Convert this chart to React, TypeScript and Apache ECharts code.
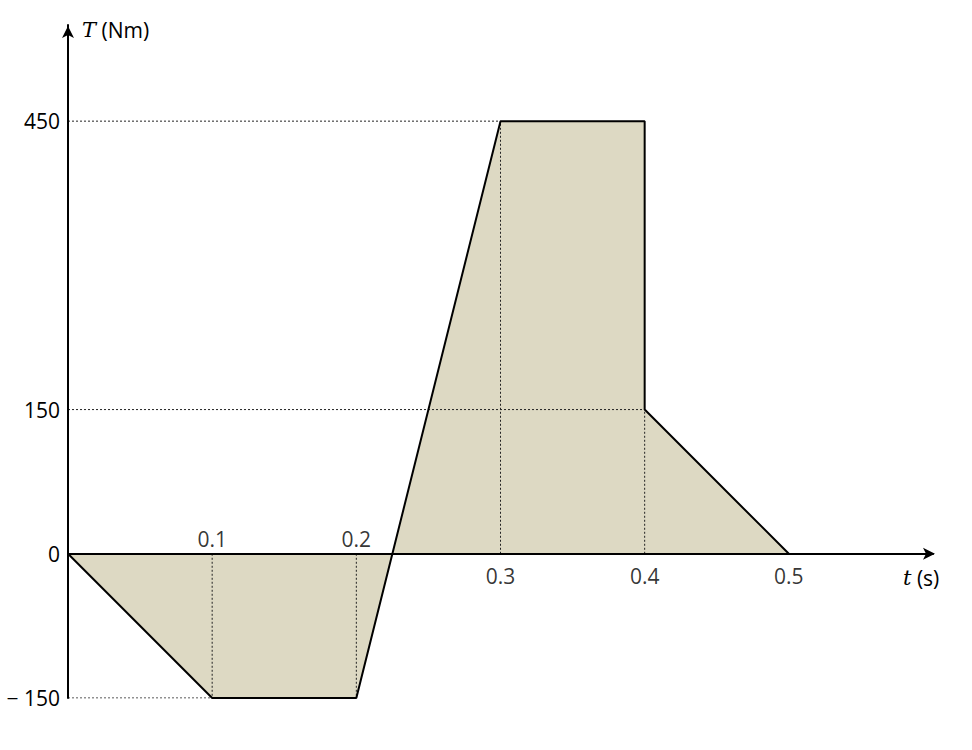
import React, { useEffect, useRef } from "react";
import * as echarts from "echarts";

const timeValues = [0, 0.1, 0.2, 0.3, 0.4, 0.4, 0.5];
const torqueValues = [0, -150, -150, 450, 450, 150, 0];

const yTickLabels = [450, 150, 0, -150];
const labelsAbove = [0.1, 0.2];
const labelsBelow = [0.3, 0.4, 0.5];

// horizontal guides: [torque level, t where it ends]
const hGuides: [number, number][] = [
  [450, 0.3],
  [150, 0.4],
  [-150, 0.1],
];
// vertical guides: [t, torque level]
const vGuides: [number, number][] = [
  [0.1, -150],
  [0.2, -150],
  [0.3, 450],
  [0.4, 150],
];

const FONT = "'Open Sans', sans-serif";
const FS = 21;

export default function App() {
  const ref = useRef<HTMLDivElement>(null);
  useEffect(() => {
    if (!ref.current) return;
    const chart = echarts.init(ref.current, undefined, { renderer: "svg" });
    const dotted = {
      type: [2, 2] as any,
      color: "#222",
      width: 1,
    };
    const labelStyle = {
      fontFamily: FONT,
      fontSize: FS,
      color: "#000",
    };
    const series: any[] = [
      {
        type: "line",
        data: timeValues.map((t, i) => [t, torqueValues[i]]),
        symbol: "none",
        lineStyle: { width: 0 },
        areaStyle: { color: "#DDD9C3", opacity: 1, origin: 0 },
        z: 1,
      },
      ...hGuides.map(([v, t]) => ({
        type: "line",
        data: [
          [0, v],
          [t, v],
        ],
        symbol: "none",
        lineStyle: dotted,
        z: 2,
      })),
      ...vGuides.map(([t, v]) => ({
        type: "line",
        data: [
          [t, 0],
          [t, v],
        ],
        symbol: "none",
        lineStyle: dotted,
        z: 2,
      })),
      {
        type: "line",
        data: timeValues.map((t, i) => [t, torqueValues[i]]),
        symbol: "none",
        lineStyle: { color: "#000", width: 2 },
        z: 5,
      },
      {
        type: "scatter",
        data: labelsAbove.map((t) => [t, 0]),
        symbolSize: 0,
        label: {
          show: true,
          position: "top",
          distance: 4,
          formatter: (p: any) => String(p.value[0]),
          ...labelStyle,
        },
        z: 6,
      },
      {
        type: "scatter",
        data: labelsBelow.map((t) => [t, 0]),
        symbolSize: 0,
        label: {
          show: true,
          position: "bottom",
          distance: 12,
          formatter: (p: any) => String(p.value[0]),
          ...labelStyle,
        },
        z: 6,
      },
    ];
    const titleRich = {
      i: {
        fontFamily: "'DejaVu Serif', serif",
        fontStyle: "italic",
        fontSize: 21,
        fill: "#000",
      },
      n: {
        fontFamily: FONT,
        fontSize: FS,
        fill: "#000",
      },
    };
    chart.setOption({
      animation: false,
      backgroundColor: "#fff",
      grid: { left: 68, right: 39, top: 25, bottom: 52, containLabel: false },
      xAxis: {
        type: "value",
        min: 0,
        max: 0.6,
        interval: 0.1,
        z: 10,
        axisLine: {
          onZero: true,
          lineStyle: { color: "#000", width: 2 },
          symbol: ["none", "arrow"],
          symbolSize: [9, 12],
          symbolOffset: [0, 2],
        },
        axisTick: { show: false },
        axisLabel: { show: false },
        splitLine: { show: false },
      },
      yAxis: {
        type: "value",
        min: -150,
        max: 550,
        interval: 150,
        z: 10,
        axisLine: {
          show: true,
          onZero: false,
          lineStyle: { color: "#000", width: 2 },
          symbol: ["none", "arrow"],
          symbolSize: [9, 12],
          symbolOffset: [0, -1],
        },
        axisTick: { show: false },
        splitLine: { show: false },
        axisLabel: {
          margin: 8,
          ...labelStyle,
          formatter: (v: number) =>
            yTickLabels.includes(v) ? (v < 0 ? "\u2212 " + Math.abs(v) : String(v)) : "",
        },
      },
      graphic: [
        {
          type: "text",
          left: 82,
          top: 19,
          style: {
            text: "{i|T}{n| (Nm)}",
            rich: titleRich,
          },
        },
        {
          type: "text",
          left: 903,
          top: 567,
          style: {
            text: "{i|t}{n| (s)}",
            rich: titleRich,
          },
        },
      ],
      series,
    });
    return () => chart.dispose();
  }, []);
  return (
    <div
      ref={ref}
      style={{ position: "absolute", left: 0, top: 0, width: 972, height: 750 }}
    />
  );
}
